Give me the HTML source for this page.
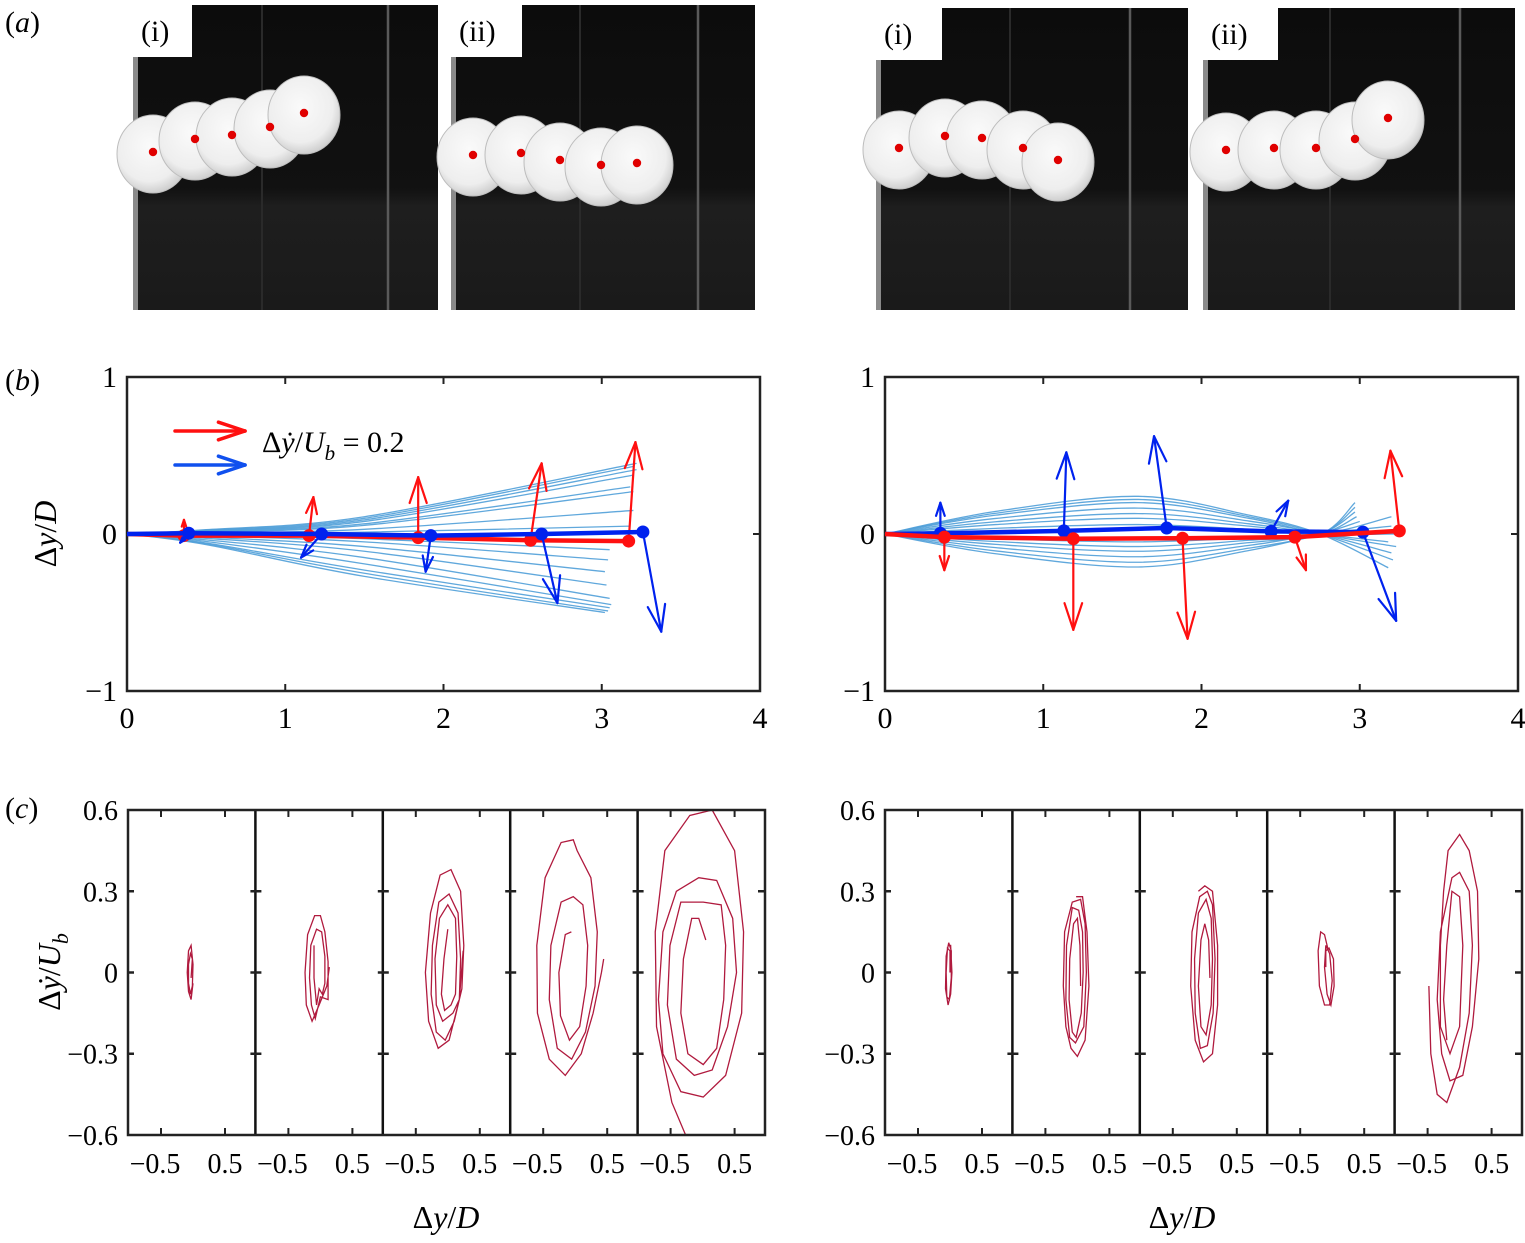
<!DOCTYPE html>
<html><head><meta charset="utf-8"><style>
html,body{margin:0;padding:0;background:#fff;}
svg{display:block;font-family:"Liberation Serif","Times New Roman",serif;}
text{font-family:"Liberation Serif","Times New Roman",serif;}
</style></head><body>
<svg id="fig" width="1525" height="1243" viewBox="0 0 1525 1243" xmlns="http://www.w3.org/2000/svg">
<defs>
<linearGradient id="photoGrad" x1="0" y1="0" x2="0" y2="1">
<stop offset="0" stop-color="#0c0c0c"/><stop offset="0.6" stop-color="#111"/><stop offset="0.66" stop-color="#1e1e1e"/><stop offset="1" stop-color="#1a1a1a"/>
</linearGradient>
<radialGradient id="diskGrad" cx="0.45" cy="0.4" r="0.6">
<stop offset="0" stop-color="#fafafa"/><stop offset="0.75" stop-color="#eeeeee"/><stop offset="1" stop-color="#cfcfcf"/>
</radialGradient>
</defs>
<g id="layer"></g>
<text x="5" y="32" font-size="30">(<tspan font-style="italic">a</tspan>)</text>
<text x="5" y="390" font-size="30">(<tspan font-style="italic">b</tspan>)</text>
<text x="5" y="818" font-size="30">(<tspan font-style="italic">c</tspan>)</text>
<text transform="translate(56,534) rotate(-90)" text-anchor="middle" font-size="32">Δ<tspan font-style="italic">y</tspan>/<tspan font-style="italic">D</tspan></text>
<text transform="translate(60,972) rotate(-90)" text-anchor="middle" font-size="32">Δ<tspan font-style="italic">ẏ</tspan>/<tspan font-style="italic">U</tspan><tspan font-style="italic" font-size="22" dy="8">b</tspan></text>
<text x="446" y="1228" text-anchor="middle" font-size="32">Δ<tspan font-style="italic">y</tspan>/<tspan font-style="italic">D</tspan></text>
<text x="1182" y="1228" text-anchor="middle" font-size="32">Δ<tspan font-style="italic">y</tspan>/<tspan font-style="italic">D</tspan></text>
<text x="262" y="452" font-size="30">Δ<tspan font-style="italic">ẏ</tspan>/<tspan font-style="italic">U</tspan><tspan font-style="italic" font-size="21" dy="8">b</tspan><tspan dy="-8"> = 0.2</tspan></text>
</svg>
<script>
// ---------- DATA ----------
const photoLabels = ["(i)","(ii)","(i)","(ii)"];
const photoDotsA1 = [[153,152],[195,139],[232,135],[270,127],[304,113]];
const photoDotsA2 = [[473,155],[521,153],[560,160],[601,165],[637,163]];
const photoDotsA3 = [[899,148],[945,136],[982,138],[1023,148],[1058,160]];
const photoDotsA4 = [[1226,150],[1274,148],[1316,148],[1355,139],[1388,118]];

const bXTicks = [0,1,2,3,4];
const bYTicks = [1,0,-1];
const bYTickLabels = ["1","0","\u22121"];

const bLeftBlueX = [0.39,1.23,1.92,2.62,3.26];
const bLeftBlueY = [0.005,0.0,-0.01,0.0,0.013];
const bLeftBlueArrowDX = [-0.054,-0.13,-0.033,0.10,0.116];
const bLeftBlueArrowDY = [-0.06,-0.15,-0.23,-0.44,-0.635];
const bLeftRedX = [0.36,1.15,1.84,2.55,3.17];
const bLeftRedY = [-0.01,-0.01,-0.023,-0.04,-0.045];
const bLeftRedArrowDX = [0.0,0.028,0.0,0.07,0.043];
const bLeftRedArrowDY = [0.1,0.245,0.385,0.49,0.63];
const bLeftFanEndX = [3.22,3.2,3.22,3.2,3.18,3.2,3.2,3.18,3.05,3.04,3.02,3.03,3.05,3.06,3.05,3.04,3.02];
const bLeftFanMidY = [0.11,0.10,0.09,0.08,0.065,0.055,0.03,0.012,-0.03,-0.05,-0.08,-0.11,-0.15,-0.19,-0.23,-0.25,-0.27];
const bLeftFanEndY = [0.45,0.43,0.41,0.375,0.30,0.27,0.15,0.05,-0.1,-0.165,-0.24,-0.325,-0.41,-0.45,-0.47,-0.49,-0.5];

const bRightBlueX = [0.35,1.13,1.78,2.44,3.02];
const bRightBlueY = [0.004,0.02,0.038,0.017,0.012];
const bRightBlueArrowDX = [0.0,0.016,-0.08,0.108,0.21];
const bRightBlueArrowDY = [0.195,0.5,0.585,0.195,-0.565];
const bRightRedX = [0.375,1.19,1.88,2.59,3.25];
const bRightRedY = [-0.02,-0.03,-0.027,-0.02,0.02];
const bRightRedArrowDX = [0.0,0.0,0.032,0.07,-0.056];
const bRightRedArrowDY = [-0.21,-0.58,-0.64,-0.21,0.51];
const bRightFanPeak = [0.24,0.22,0.2,0.165,0.13,0.10,0.06,-0.05,-0.08,-0.11,-0.145,-0.18,-0.21];
const bRightFanEndX = [3.18,3.21,3.23,3.2,3.18,3.22,3.2,2.97,2.97,2.98,3.2,2.97,3.0];
const bRightFanEndY = [-0.215,-0.165,-0.08,-0.12,-0.05,0.0,0.11,0.2,0.17,0.11,0.05,0.14,0.08];

const cYTicks = [0.6,0.3,0,-0.3,-0.6];
const cYTickLabels = ["0.6","0.3","0","\u22120.3","\u22120.6"];
const cXTicks = [-0.5,0.5];
const cXTickLabels = ["\u22120.5","0.5"];
const cLeft1 = [[-0.03,-0.02],[-0.01,0.05],[-0.04,0.07],[-0.07,0.03],[-0.07,-0.04],[-0.04,-0.08],[-0.01,-0.05],[0.0,0.03],[-0.03,0.1],[-0.07,0.08],[-0.09,0.0],[-0.07,-0.07],[-0.03,-0.1],[0.0,-0.04]];
const cLeft2 = [[-0.10,0.10],[-0.10,-0.02],[-0.06,-0.12],[-0.02,-0.06],[0.03,-0.08],[0.07,-0.04],[0.07,0.06],[0.02,0.15],[-0.06,0.16],[-0.15,0.10],[-0.17,-0.02],[-0.14,-0.12],[-0.08,-0.17],[0.0,-0.09],[0.12,-0.10],[0.12,0.04],[0.07,0.15],[0.0,0.21],[-0.09,0.21],[-0.20,0.14],[-0.24,0.0],[-0.22,-0.12],[-0.13,-0.18],[-0.02,-0.12],[0.10,-0.05],[0.14,0.02]];
const cLeft3 = [[0.0,0.16],[-0.06,0.05],[-0.1,-0.08],[-0.05,-0.14],[0.05,-0.12],[0.12,-0.08],[0.14,0.06],[0.12,0.2],[0.0,0.25],[-0.13,0.2],[-0.2,0.05],[-0.18,-0.12],[-0.08,-0.18],[0.08,-0.15],[0.18,-0.1],[0.2,0.05],[0.16,0.22],[0.02,0.29],[-0.14,0.26],[-0.24,0.1],[-0.26,-0.08],[-0.18,-0.22],[-0.04,-0.25],[0.1,-0.18],[0.22,-0.06],[0.25,0.1],[0.2,0.3],[0.05,0.38],[-0.12,0.36],[-0.27,0.22],[-0.35,0.0],[-0.3,-0.18],[-0.15,-0.28],[0.02,-0.25],[0.18,-0.1],[0.24,0.08]];
const cLeft4 = [[-0.06,0.15],[-0.155,0.14],[-0.255,0.0],[-0.23,-0.16],[-0.09,-0.25],[0.07,-0.2],[0.17,-0.05],[0.195,0.1],[0.12,0.25],[-0.03,0.28],[-0.22,0.26],[-0.38,0.1],[-0.405,-0.1],[-0.28,-0.28],[-0.055,-0.32],[0.16,-0.22],[0.31,-0.05],[0.345,0.15],[0.245,0.35],[0.03,0.45],[-0.03,0.49],[-0.22,0.48],[-0.47,0.35],[-0.6,0.1],[-0.59,-0.15],[-0.405,-0.32],[-0.155,-0.38],[0.095,-0.3],[0.28,-0.15],[0.41,0.0],[0.445,0.05]];
const cLeft5 = [[0.05,0.12],[-0.06,0.2],[-0.17,0.2],[-0.3,0.05],[-0.34,-0.15],[-0.23,-0.3],[0.01,-0.34],[0.22,-0.28],[0.33,-0.1],[0.36,0.1],[0.29,0.25],[0.01,0.26],[-0.34,0.26],[-0.51,0.1],[-0.55,-0.12],[-0.41,-0.32],[-0.13,-0.38],[0.15,-0.36],[0.39,-0.2],[0.53,0.0],[0.47,0.2],[0.22,0.34],[-0.06,0.35],[-0.41,0.3],[-0.62,0.15],[-0.69,-0.1],[-0.62,-0.3],[-0.34,-0.44],[0.01,-0.46],[0.36,-0.38],[0.61,-0.15],[0.64,0.15],[0.5,0.45],[0.15,0.6],[-0.2,0.58],[-0.59,0.45],[-0.74,0.15],[-0.72,-0.2],[-0.48,-0.48],[-0.23,-0.62]];
const cRight1 = [[0.0,0.0],[0.0,0.08],[-0.04,0.09],[-0.06,0.0],[-0.05,-0.09],[-0.01,-0.1],[0.02,-0.02],[0.02,0.08],[-0.02,0.11],[-0.06,0.06],[-0.07,-0.06],[-0.03,-0.12],[0.01,-0.08],[0.03,0.0],[0.01,0.1],[-0.03,0.1]];
const cRight2 = [[0.05,-0.05],[0.04,0.1],[0.0,0.2],[-0.06,0.18],[-0.12,0.05],[-0.13,-0.1],[-0.08,-0.22],[-0.02,-0.24],[0.06,-0.15],[0.09,0.0],[0.08,0.15],[0.02,0.23],[-0.08,0.24],[-0.17,0.1],[-0.18,-0.1],[-0.12,-0.24],[-0.03,-0.26],[0.1,-0.2],[0.14,0.0],[0.12,0.18],[0.05,0.27],[-0.08,0.26],[-0.2,0.15],[-0.22,-0.05],[-0.18,-0.2],[-0.1,-0.28],[0.0,-0.31],[0.12,-0.25],[0.18,-0.05],[0.15,0.15],[0.08,0.28],[-0.02,0.28]];
const cRight3 = [[0.08,-0.02],[0.06,0.12],[0.0,0.18],[-0.06,0.12],[-0.1,-0.05],[-0.06,-0.2],[0.02,-0.23],[0.1,-0.12],[0.12,0.05],[0.1,0.2],[0.02,0.27],[-0.1,0.22],[-0.16,0.05],[-0.15,-0.15],[-0.07,-0.28],[0.04,-0.27],[0.13,-0.15],[0.16,0.05],[0.12,0.25],[0.04,0.3],[-0.08,0.28],[-0.2,0.15],[-0.22,-0.05],[-0.15,-0.25],[-0.02,-0.33],[0.12,-0.3],[0.2,-0.12],[0.2,0.1],[0.12,0.3],[0.0,0.32],[-0.1,0.3]];
const cRight4 = [[-0.1,0.02],[-0.1,0.08],[-0.05,0.09],[0.02,0.05],[0.03,-0.05],[-0.02,-0.12],[-0.08,-0.08],[-0.12,0.02],[-0.1,0.1],[-0.04,0.07],[0.0,-0.03],[-0.04,-0.12],[-0.12,-0.12],[-0.2,-0.05],[-0.22,0.08],[-0.18,0.15],[-0.12,0.14],[-0.06,0.08]];
const cRight5 = [[-0.48,-0.05],[-0.45,-0.3],[-0.35,-0.45],[-0.2,-0.48],[0.0,-0.35],[0.15,-0.15],[0.2,0.1],[0.15,0.3],[0.0,0.37],[-0.12,0.35],[-0.3,0.15],[-0.35,-0.1],[-0.28,-0.3],[-0.15,-0.4],[0.05,-0.38],[0.2,-0.2],[0.3,0.05],[0.28,0.3],[0.15,0.45],[0.0,0.51],[-0.18,0.45],[-0.25,0.3],[-0.3,0.1],[-0.3,-0.2],[-0.15,-0.3],[0.0,-0.2],[0.05,0.1],[0.0,0.28],[-0.12,0.3],[-0.2,0.1],[-0.25,-0.1],[-0.2,-0.25]];

// ---------- DRAWING ----------
const NS = "http://www.w3.org/2000/svg";
const root = document.getElementById("layer");
function mk(tag, attrs, parent){
  const e = document.createElementNS(NS, tag);
  for (const k in attrs) e.setAttribute(k, attrs[k]);
  (parent||root).appendChild(e);
  return e;
}
function txt(s, x, y, size, anchor, name){
  const t = mk("text", {x:x, y:y, "font-size":size, "text-anchor":anchor||"middle"});
  t.textContent = s;
  
  
  return t;
}

const photoBoxes = [[133,5,305,305,59,262,388],[451,5,304,305,71,580,698],[876,8,312,302,66,1010,1130],[1203,8,312,302,75,1330,1460]];
const photoDots = [photoDotsA1,photoDotsA2,photoDotsA3,photoDotsA4];
photoBoxes.forEach((b,i)=>{
  const g = mk("g",{});
  
  
  const [x,y,w,h,lw,fx,bx] = b;
  const bg = mk("rect",{x:x,y:y,width:w,height:h,fill:"url(#photoGrad)"},g);
  
  
  mk("rect",{x:x,y:y,width:5,height:h,fill:"#8a8a8a"},g);
  mk("line",{x1:fx,y1:y,x2:fx,y2:y+h,stroke:"#2a2a2a","stroke-width":2},g);
  mk("line",{x1:bx,y1:y,x2:bx,y2:y+h,stroke:"#5a5a5a","stroke-width":2.5},g);
  photoDots[i].forEach(d=>{
    const c = mk("ellipse",{cx:d[0],cy:d[1]+2,rx:36,ry:39,fill:"url(#diskGrad)",stroke:"#bdbdbd","stroke-width":1},g);
    
    
  });
  photoDots[i].forEach(d=>{
    const c = mk("circle",{cx:d[0],cy:d[1],r:4.2,fill:"#e00000"},g);
    
    
  });
  mk("rect",{x:x-1,y:y-1,width:lw+1,height:53,fill:"#fff"},g);
  const t = txt(photoLabels[i], x+8, y+36, 30, "start", 'photo-label');
  g.appendChild(t);
});

function arrow(x1,y1,x2,y2,color,w,name){
  const g = mk("g",{stroke:color,"stroke-width":w,fill:"none","stroke-linecap":"round"});
  
  
  mk("line",{x1:x1,y1:y1,x2:x2,y2:y2},g);
  const L = Math.hypot(x2-x1,y2-y1); if (L<1) return g;
  const hl = Math.min(28, L*0.45), a = 0.32;
  const ang = Math.atan2(y2-y1,x2-x1);
  [a,-a].forEach(s=>{
    mk("line",{x1:x2,y1:y2,x2:x2-hl*Math.cos(ang+s),y2:y2-hl*Math.sin(ang+s)},g);
  });
  return g;
}

function smoothPath(pts){
  let d = "M"+pts[0][0]+","+pts[0][1];
  for (let i=0;i<pts.length-1;i++){
    const p0=pts[Math.max(i-1,0)],p1=pts[i],p2=pts[i+1],p3=pts[Math.min(i+2,pts.length-1)];
    const c1=[p1[0]+(p2[0]-p0[0])/6,p1[1]+(p2[1]-p0[1])/6];
    const c2=[p2[0]-(p3[0]-p1[0])/6,p2[1]-(p3[1]-p1[1])/6];
    d += " C"+c1[0]+","+c1[1]+" "+c2[0]+","+c2[1]+" "+p2[0]+","+p2[1];
  }
  return d;
}

function bAxes(x0, side){
  const sx = v=>x0+v*158.25, sy = v=>534-v*157;
  const frame = mk("rect",{x:x0,y:377,width:633,height:314,fill:"none",stroke:"#222","stroke-width":2.5});
  
  
  bXTicks.forEach(v=>{
    mk("line",{x1:sx(v),y1:691,x2:sx(v),y2:684,stroke:"#222","stroke-width":2});
    mk("line",{x1:sx(v),y1:377,x2:sx(v),y2:384,stroke:"#222","stroke-width":2});
    txt(String(v), sx(v), 728, 30, "middle", 'panel-b-'+side+'-x-tick-label');
  });
  bYTicks.forEach((v,i)=>{
    mk("line",{x1:x0,y1:sy(v),x2:x0+7,y2:sy(v),stroke:"#222","stroke-width":2});
    mk("line",{x1:x0+633,y1:sy(v),x2:x0+626,y2:sy(v),stroke:"#222","stroke-width":2});
    txt(bYTickLabels[i], x0-10, sy(v)+10, 30, "end", 'panel-b-'+side+'-y-tick-label');
  });
  return [sx, sy];
}

function bPanel(x0, side, fanPaths, blueX, blueY, bdx, bdy, redX, redY, rdx, rdy, redOnTop){
  const [sx, sy] = bAxes(x0, side);
  fanPaths(sx, sy).forEach(pts=>{
    const p = mk("path",{d:smoothPath(pts),fill:"none",stroke:"#4f9fd8","stroke-width":1.3,"stroke-opacity":0.9});
    
    
  });
  function series(X,Y,DX,DY,color,name){
    const pts = [[sx(0),sy(0)]].concat(X.map((x,i)=>[sx(x),sy(Y[i])]));
    const p = mk("polyline",{points:pts.map(q=>q.join(",")).join(" "),fill:"none",stroke:color,"stroke-width":4.5,"stroke-linejoin":"round"});
    
    
    X.forEach((x,i)=>{
      arrow(sx(x),sy(Y[i]),sx(x+DX[i]),sy(Y[i]+DY[i]),color,2.2,'panel-b-'+side+'-'+name+'-velocity-arrow');
    });
    X.forEach((x,i)=>{
      const c = mk("circle",{cx:sx(x),cy:sy(Y[i]),r:6.5,fill:color});
      
      
    });
  }
  if (redOnTop){ series(blueX,blueY,bdx,bdy,"#0022ee","blue"); series(redX,redY,rdx,rdy,"#ff1010","red"); }
  else { series(redX,redY,rdx,rdy,"#ff1010","red"); series(blueX,blueY,bdx,bdy,"#0022ee","blue"); }
}

bPanel(127, "left", (sx,sy)=>bLeftFanEndX.map((ex,i)=>[[sx(0),sy(0)],[sx(0.5),sy(bLeftFanMidY[i]*0.25)],[sx(1.5),sy(bLeftFanMidY[i])],[sx(ex),sy(bLeftFanEndY[i])]]),
  bLeftBlueX,bLeftBlueY,bLeftBlueArrowDX,bLeftBlueArrowDY,bLeftRedX,bLeftRedY,bLeftRedArrowDX,bLeftRedArrowDY,false);
bPanel(885, "right", (sx,sy)=>bRightFanPeak.map((pk,i)=>[[sx(0),sy(0)],[sx(0.7),sy(pk*0.6)],[sx(1.6),sy(pk)],[sx(2.3),sy(pk*0.5)],[sx(2.75),sy(0)],[sx(bRightFanEndX[i]),sy(bRightFanEndY[i])]]),
  bRightBlueX,bRightBlueY,bRightBlueArrowDX,bRightBlueArrowDY,bRightRedX,bRightRedY,bRightRedArrowDX,bRightRedArrowDY,true);

arrow(175,431,245,431,"#ff1010",3.5,'legend-red-arrow');
arrow(175,465,245,465,"#1050ee",3.5,'legend-blue-arrow');

function cPanel(X0, side, traces){
  const sy = v=>972.5-v*270.8;
  traces.forEach((tr,k)=>{
    const L = X0 + k*127.4;
    const sx = v=>L+65+v*64;
    const cp = mk("clipPath",{id:"clip-"+side+"-"+k});
    mk("rect",{x:L,y:810,width:127.4,height:325},cp);
    const p = mk("polyline",{points:tr.map(q=>sx(q[0])+","+sy(q[1])).join(" "),fill:"none",stroke:"#b01a3e","stroke-width":1.3,"clip-path":"url(#clip-"+side+"-"+k+")"});
    
    
    cXTicks.forEach((v,i)=>{
      mk("line",{x1:sx(v),y1:1135,x2:sx(v),y2:1128,stroke:"#222","stroke-width":2});
      mk("line",{x1:sx(v),y1:810,x2:sx(v),y2:817,stroke:"#222","stroke-width":2});
      txt(cXTickLabels[i], sx(v)-(i===0?6:0), 1173, 28, "middle", 'panel-c-'+side+'-x-tick-label');
    });
    if (k>0){
      const d = mk("line",{x1:L,y1:810,x2:L,y2:1135,stroke:"#111","stroke-width":2.5});
      
      
    }
    cYTicks.forEach(v=>{
      if (Math.abs(v)<0.6){
        mk("line",{x1:L-(k>0?5:0),y1:sy(v),x2:L+6,y2:sy(v),stroke:"#222","stroke-width":2.5});
      }
    });
  });
  const frame = mk("rect",{x:X0,y:810,width:637,height:325,fill:"none",stroke:"#222","stroke-width":2.5});
  
  
  cYTicks.forEach((v,i)=>{
    if (Math.abs(v)<0.6) mk("line",{x1:X0+637,y1:sy(v),x2:X0+630,y2:sy(v),stroke:"#222","stroke-width":2.5});
    txt(cYTickLabels[i], X0-10, sy(v)+10, 28, "end", 'panel-c-'+side+'-y-tick-label');
  });
}
cPanel(128, "left", [cLeft1,cLeft2,cLeft3,cLeft4,cLeft5]);
cPanel(885, "right", [cRight1,cRight2,cRight3,cRight4,cRight5]);
</script>
</body></html>
